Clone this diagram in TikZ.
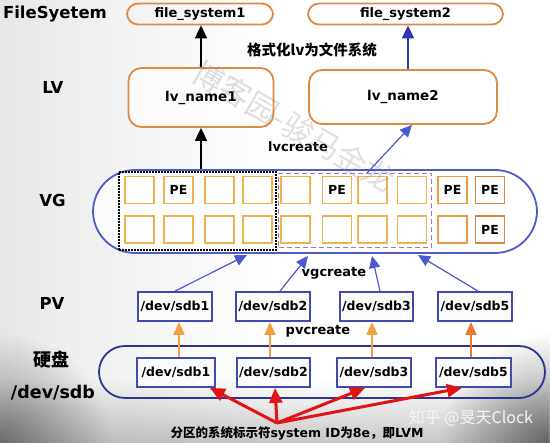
\documentclass[tikz,border=0pt]{standalone}
\usepackage{fontspec}
\setmainfont{DejaVu Sans}
\newfontfamily\cjk{Noto Sans CJK SC}
\usetikzlibrary{arrows.meta,fadings}
\tikzfading[name=cornerfade, inner color=transparent!0, outer color=transparent!100]
\pgfdeclarehorizontalshading{bgshade}{100bp}{color(0bp)=(black!24); color(30bp)=(black!7); color(50bp)=(white); color(82bp)=(white); color(100bp)=(black!12)}

\definecolor{boxorange}{HTML}{DE8A40}
\definecolor{pegold}{HTML}{EFB24E}
\definecolor{pemid}{HTML}{EA9A45}
\definecolor{pedark}{HTML}{E0823A}
\definecolor{vgblue}{HTML}{4E5BC6}
\definecolor{diskblue}{HTML}{2C3590}
\definecolor{pvblue}{HTML}{3D4BB2}
\definecolor{arrblue}{HTML}{4A58D2}
\definecolor{arrdblue}{HTML}{2F38B4}
\definecolor{arrorange}{HTML}{F2A043}
\definecolor{arrdorange}{HTML}{E87A30}
\definecolor{arrred}{HTML}{E01414}
\definecolor{dashpurple}{HTML}{A874B8}

\begin{document}
\begin{tikzpicture}[x=1pt,y=-1pt,
  font=\bfseries,
  lefttitle/.style={inner sep=0pt, font=\bfseries\fontsize{16.5}{16.5}\selectfont},
  fsbox/.style={draw=boxorange, line width=1.8pt, rounded corners=11pt, minimum height=21pt, inner sep=0pt, font=\bfseries\fontsize{13}{13}\selectfont},
  lvbox/.style={draw=boxorange, fill=white, fill opacity=0.6, text opacity=1, line width=1.8pt, rounded corners=13pt, inner sep=0pt, font=\bfseries\fontsize{13.5}{13.5}\selectfont},
  pebox/.style={draw=#1, fill=white, line width=1.8pt, minimum width=29pt, minimum height=27pt, inner sep=0pt, font=\bfseries\fontsize{12.5}{12.5}\selectfont},
  pebox/.default=pegold,
  devbox/.style={draw=pvblue, fill=white!97!gray, line width=1.8pt, minimum height=29pt, inner sep=0pt, font=\bfseries\fontsize{12.5}{12.5}\selectfont},
  cmdlabel/.style={inner sep=0pt, font=\bfseries\fontsize{13}{13}\selectfont},
  blkarrow/.style={-{Triangle[width=12pt,length=13pt]}, line width=1.8pt, black},
  bluearrow/.style={-{Triangle[width=11pt,length=12pt]}, line width=1.2pt, arrblue},
  orarrow/.style={-{Triangle[width=11pt,length=13pt]}, line width=1.8pt, #1},
  orarrow/.default=arrorange,
  redarrow/.style={-{Triangle[width=13pt,length=15pt]}, line width=3pt, arrred}
]
% background
\useasboundingbox (0,0) rectangle (550,443);
\shade[shading=bgshade] (0,0) rectangle (550,443);
\fill[black, opacity=0.22, path fading=north] (0,380) rectangle (550,443);
\fill[black, opacity=0.4, path fading=cornerfade] (0,443) circle (110);
\fill[black, opacity=0.5, path fading=cornerfade] (550,443) circle (110);

% left titles
\node[lefttitle] (tFS) at (55,14) {FileSyetem};
\node[lefttitle] (tLV) at (53,87) {LV};
\node[lefttitle] (tVG) at (52.5,200) {VG};
\node[lefttitle] (tPV) at (52,303) {PV};
\node[lefttitle, font=\cjk\bfseries\fontsize{18}{18}\selectfont] (tDisk) at (52,360) {硬盘};
\node[lefttitle, font=\bfseries\fontsize{17.5}{17.5}\selectfont] (tSdb) at (53,393) {/dev/sdb};

% file systems
\node[fsbox, minimum width=146pt] (fs1) at (200,14) {file\_system1};
\node[fsbox, minimum width=195pt] (fs2) at (405.5,14) {file\_system2};

% logical volumes
\node[lvbox, minimum width=145pt, minimum height=59pt] (lv1) at (201,97.5) {lv\_name1};
\node[lvbox, minimum width=188pt, minimum height=54pt] (lv2) at (403,97) {lv\_name2};

\node[inner sep=0pt, font=\cjk\bfseries\fontsize{14.5}{14.5}\selectfont] (fmt) at (312,50) {格式化lv为文件系统};
\node[cmdlabel] (lvc) at (298,147) {lvcreate};

% volume group
\node[draw=vgblue, fill=white, fill opacity=0.75, line width=1.8pt, rounded corners=42pt, minimum width=444pt, minimum height=83pt, inner sep=0pt] (vg) at (315,211.5) {};

% physical extents
\node[pebox] (a1) at (139.5,190) {};
\node[pebox] (a2) at (178.5,190) {PE};
\node[pebox] (a3) at (219.5,190) {};
\node[pebox] (a4) at (257.5,190) {};
\node[pebox] (a5) at (295.5,190) {};
\node[pebox] (a6) at (337,190) {PE};
\node[pebox] (a7) at (372.5,190) {};
\node[pebox] (a8) at (412,190) {};
\node[pebox=pemid] (a9) at (452.5,190) {PE};
\node[pebox=pedark] (a10) at (490,190) {PE};
\node[pebox] (b1) at (139.5,229.5) {};
\node[pebox] (b2) at (178.5,229.5) {};
\node[pebox] (b3) at (219.5,229.5) {};
\node[pebox] (b4) at (257.5,229.5) {};
\node[pebox] (b5) at (295.5,229.5) {};
\node[pebox] (b6) at (337,229.5) {};
\node[pebox] (b7) at (372.5,229.5) {};
\node[pebox] (b8) at (412,229.5) {};
\node[pebox=pemid] (b9) at (452.5,229.5) {};
\node[pebox=pedark] (b10) at (490,229.5) {PE};

% groups of extents
\node[draw=black, line width=1.6pt, dash pattern=on 1.6pt off 1.4pt, minimum width=157pt, minimum height=78pt, inner sep=0pt] (grp1) at (197.5,211) {};
\node[draw=dashpurple, line width=1.4pt, dash pattern=on 5pt off 3pt, minimum width=153pt, minimum height=74pt, inner sep=0pt] (grp2) at (355,210.5) {};

% physical volumes
\node[devbox, minimum width=74pt] (p1) at (175,306.5) {/dev/sdb1};
\node[devbox, minimum width=74pt] (p2) at (273,306.5) {/dev/sdb2};
\node[devbox, minimum width=73pt] (p3) at (376.5,306.5) {/dev/sdb3};
\node[devbox, minimum width=74pt] (p4) at (475,306.5) {/dev/sdb5};

\node[cmdlabel] (vgc) at (334,273) {vgcreate};
\node[cmdlabel] (pvc) at (318,331) {pvcreate};

% disk
\node[draw=diskblue, line width=1.8pt, rounded corners=26pt, minimum width=446pt, minimum height=52pt, inner sep=0pt] (disk) at (322,372) {};
\node[devbox, minimum width=78pt] (d1) at (176,372.5) {/dev/sdb1};
\node[devbox, minimum width=73pt] (d2) at (273.5,372.5) {/dev/sdb2};
\node[devbox, minimum width=74pt] (d3) at (374,372.5) {/dev/sdb3};
\node[devbox, minimum width=75pt] (d4) at (473.5,372.5) {/dev/sdb5};

\node[inner sep=0pt, font=\bfseries\fontsize{12.5}{12.5}\selectfont] (note) at (297,433)
  {{\cjk 分区的系统标示符}system ID{\cjk 为}8e{\cjk ，即}LVM};

% connectors
\draw[blkarrow] (lv1.north) -- (lv1.north |- fs1.south);
\draw[blkarrow] (vg.north -| lv1.south) -- (lv1.south);
\draw[-{Triangle[width=12pt,length=13pt]}, line width=1.8pt, arrdblue] ([xshift=5pt]lv2.north) -- ([xshift=5pt]lv2.north |- fs2.south);
\coordinate (lvsrc) at (367,173);
\draw[bluearrow] (lvsrc) -- ([xshift=9pt]lv2.south);

\coordinate (vgin1) at (247,255);
\coordinate (vgin2) at (308,256);
\coordinate (vgin3) at (372,256);
\coordinate (vgin4) at (418,255);
\draw[bluearrow] (p1.north) -- (vgin1);
\draw[bluearrow] ([xshift=7pt]p2.north) -- (vgin2);
\draw[bluearrow] ([xshift=3.5pt]p3.north) -- (vgin3);
\draw[bluearrow] ([xshift=3pt]p4.north) -- (vgin4);

\draw[orarrow] ([xshift=3pt]d1.north) -- ([xshift=3pt]d1.north |- p1.south);
\draw[orarrow] ([xshift=-3.5pt]d2.north) -- ([xshift=-3.5pt]d2.north |- p2.south);
\draw[orarrow] ([xshift=-2pt]d3.north) -- ([xshift=-2pt]d3.north |- p3.south);
\draw[orarrow=arrdorange] ([xshift=-2.5pt]d4.north) -- ([xshift=-2.5pt]d4.north |- p4.south);

\coordinate (redsrc) at (277,423);
\draw[redarrow] (redsrc) -- ([xshift=-6pt]d1.south east);
\draw[redarrow] (redsrc) -- ([xshift=1.5pt]d2.south);
\draw[redarrow] (redsrc) -- ([xshift=-9pt]d3.south);
\draw[redarrow] (redsrc) -- ([xshift=-11.5pt]d4.south);

% watermarks
\node[rotate=-30, text=gray, opacity=0.25, inner sep=0pt, font=\cjk\mdseries\fontsize{31}{31}\selectfont] (wm) at (294,126) {博客园-骏马金龙};
\node[text=white!94!gray, inner sep=0pt, font=\cjk\mdseries\fontsize{16}{16}\selectfont] (zh) at (471,418) {知乎 @旻天Clock};
\end{tikzpicture}
\end{document}
